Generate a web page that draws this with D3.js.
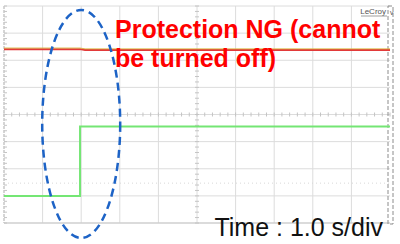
<!DOCTYPE html>
<html>
<head>
<meta charset="utf-8">
<script src="https://cdn.jsdelivr.net/npm/d3@7"></script>
<style>
  body { margin: 0; background: #fff; }
  svg { display: block; }
</style>
</head>
<body>
<script>
// scope screen: 10 time divisions x 8 vertical divisions
var width = 400, height = 244;
var plot = {left: 4, right: 390, top: 6, bottom: 223};

const timeDivs = d3.range(0, 11);       // 0..10 div
const voltDivs = d3.range(-4, 5);       // -4..4 div

// traces, time in div, level in div
const greenTime = [0, 1.97, 1.97, 10];
const greenLevel = [-3.0, -3.0, -0.44, -0.44];
const redTime = [0, 1.97, 2.1, 10];
const redLevel = [2.41, 2.41, 2.38, 2.38];
const yellowTime = [0, 1.97, 2.1, 10];
const yellowLevel = [2.45, 2.45, 2.42, 2.42];
const groundLevel = -2.53;

const titleLines = ["Protection NG (cannot", "be turned off)"];
const timeLabel = "Time : 1.0 s/div";

var x = d3.scaleLinear().domain([0, 10]).range([plot.left, plot.right]);
var y = d3.scaleLinear().domain([-4, 4]).range([plot.bottom, plot.top]);

var svg = d3.select("body").append("svg")
    .attr("width", width)
    .attr("height", height);

// grid
svg.append("g").selectAll("line")
    .data(timeDivs.slice(1, -1))
    .enter().append("line")
    .attr("x1", d => x(d)).attr("x2", d => x(d))
    .attr("y1", plot.top).attr("y2", plot.bottom)
    .attr("stroke", "#dcdcdc").attr("stroke-width", 1);

svg.append("g").selectAll("line")
    .data(voltDivs.slice(1))
    .enter().append("line")
    .attr("x1", plot.left).attr("x2", plot.right)
    .attr("y1", d => y(d)).attr("y2", d => y(d))
    .attr("stroke", "#dcdcdc").attr("stroke-width", 1);

// bottom edge
svg.append("line")
    .attr("x1", plot.left).attr("x2", plot.right)
    .attr("y1", y(-4)).attr("y2", y(-4))
    .attr("stroke", "#cfcfcf").attr("stroke-width", 1.5);

// center axes with minor ticks
var minor = d3.range(0, 10.01, 0.2);
var minorV = d3.range(-4, 4.01, 0.2);
svg.append("g").selectAll("line")
    .data(minor)
    .enter().append("line")
    .attr("x1", d => x(d)).attr("x2", d => x(d))
    .attr("y1", y(0) - 2).attr("y2", y(0) + 2)
    .attr("stroke", "#c4c4c4");
svg.append("g").selectAll("line")
    .data(minorV)
    .enter().append("line")
    .attr("x1", x(5) - 2).attr("x2", x(5) + 2)
    .attr("y1", d => y(d)).attr("y2", d => y(d))
    .attr("stroke", "#c4c4c4");
svg.append("g").selectAll("line")
    .data(minorV)
    .enter().append("line")
    .attr("x1", plot.left).attr("x2", plot.left + 3)
    .attr("y1", d => y(d)).attr("y2", d => y(d))
    .attr("stroke", "#c4c4c4");

// left edge
svg.append("line")
    .attr("x1", plot.left).attr("x2", plot.left)
    .attr("y1", plot.top).attr("y2", plot.bottom)
    .attr("stroke", "#c8c8c8").attr("stroke-width", 1.5)
    .attr("stroke-dasharray", "3,1");

// ground marker
svg.append("line")
    .attr("x1", plot.left).attr("x2", plot.right)
    .attr("y1", y(groundLevel)).attr("y2", y(groundLevel))
    .attr("stroke", "#d8d8d8").attr("stroke-dasharray", "1,3");

// right double dashed edge
svg.append("rect")
    .attr("x", x(10) - 2).attr("y", plot.top)
    .attr("width", 5).attr("height", plot.bottom - plot.top + 1)
    .attr("fill", "none")
    .attr("stroke", "#8c8c8c").attr("stroke-width", 1)
    .attr("stroke-dasharray", "4,2");

// LeCroy badge
svg.append("text")
    .attr("x", 386).attr("y", 14)
    .attr("text-anchor", "end")
    .attr("font-family", "Liberation Sans, Arial, sans-serif")
    .attr("font-size", "8px")
    .attr("fill", "#555")
    .text("LeCroy");
svg.append("line")
    .attr("x1", 361).attr("x2", 387).attr("y1", 16).attr("y2", 16)
    .attr("stroke", "#777").attr("stroke-width", 0.7);
svg.append("text")
    .attr("x", 390).attr("y", 15)
    .attr("font-family", "Liberation Sans, Arial, sans-serif")
    .attr("font-size", "7px")
    .attr("fill", "#555")
    .text("v");

// traces
var line = d3.line()
    .x(d => x(d[0]))
    .y(d => y(d[1]));

svg.append("path")
    .datum(d3.zip(greenTime, greenLevel))
    .attr("d", line)
    .attr("fill", "none")
    .attr("stroke", "#74e674")
    .attr("stroke-width", 2);

svg.append("path")
    .datum(d3.zip(redTime, redLevel))
    .attr("d", line)
    .attr("fill", "none")
    .attr("stroke", "#e23a3a")
    .attr("stroke-width", 2);

svg.append("path")
    .datum(d3.zip(yellowTime, yellowLevel))
    .attr("d", line)
    .attr("fill", "none")
    .attr("stroke", "#d9b440")
    .attr("stroke-width", 0.9);

// dashed ellipse marking the event
svg.append("ellipse")
    .attr("cx", x(2)).attr("cy", 124)
    .attr("rx", 39).attr("ry", 114)
    .attr("fill", "none")
    .attr("stroke", "#1d63c6")
    .attr("stroke-width", 2.5)
    .attr("stroke-dasharray", "8,5");

// annotation
svg.append("text")
    .attr("x", 115).attr("y", 38)
    .attr("font-family", "Liberation Sans, Arial, sans-serif")
    .attr("font-weight", "bold")
    .attr("font-size", "25px")
    .attr("fill", "#ff0000")
    .selectAll("tspan")
    .data(titleLines)
    .enter().append("tspan")
    .attr("x", 115)
    .attr("dy", (d, i) => i ? 29 : 0)
    .text(d => d);

svg.append("text")
    .attr("x", 383).attr("y", 236)
    .attr("text-anchor", "end")
    .attr("font-family", "Liberation Sans, Arial, sans-serif")
    .attr("font-size", "25px")
    .attr("fill", "#111")
    .text(timeLabel);
</script>
</body>
</html>
